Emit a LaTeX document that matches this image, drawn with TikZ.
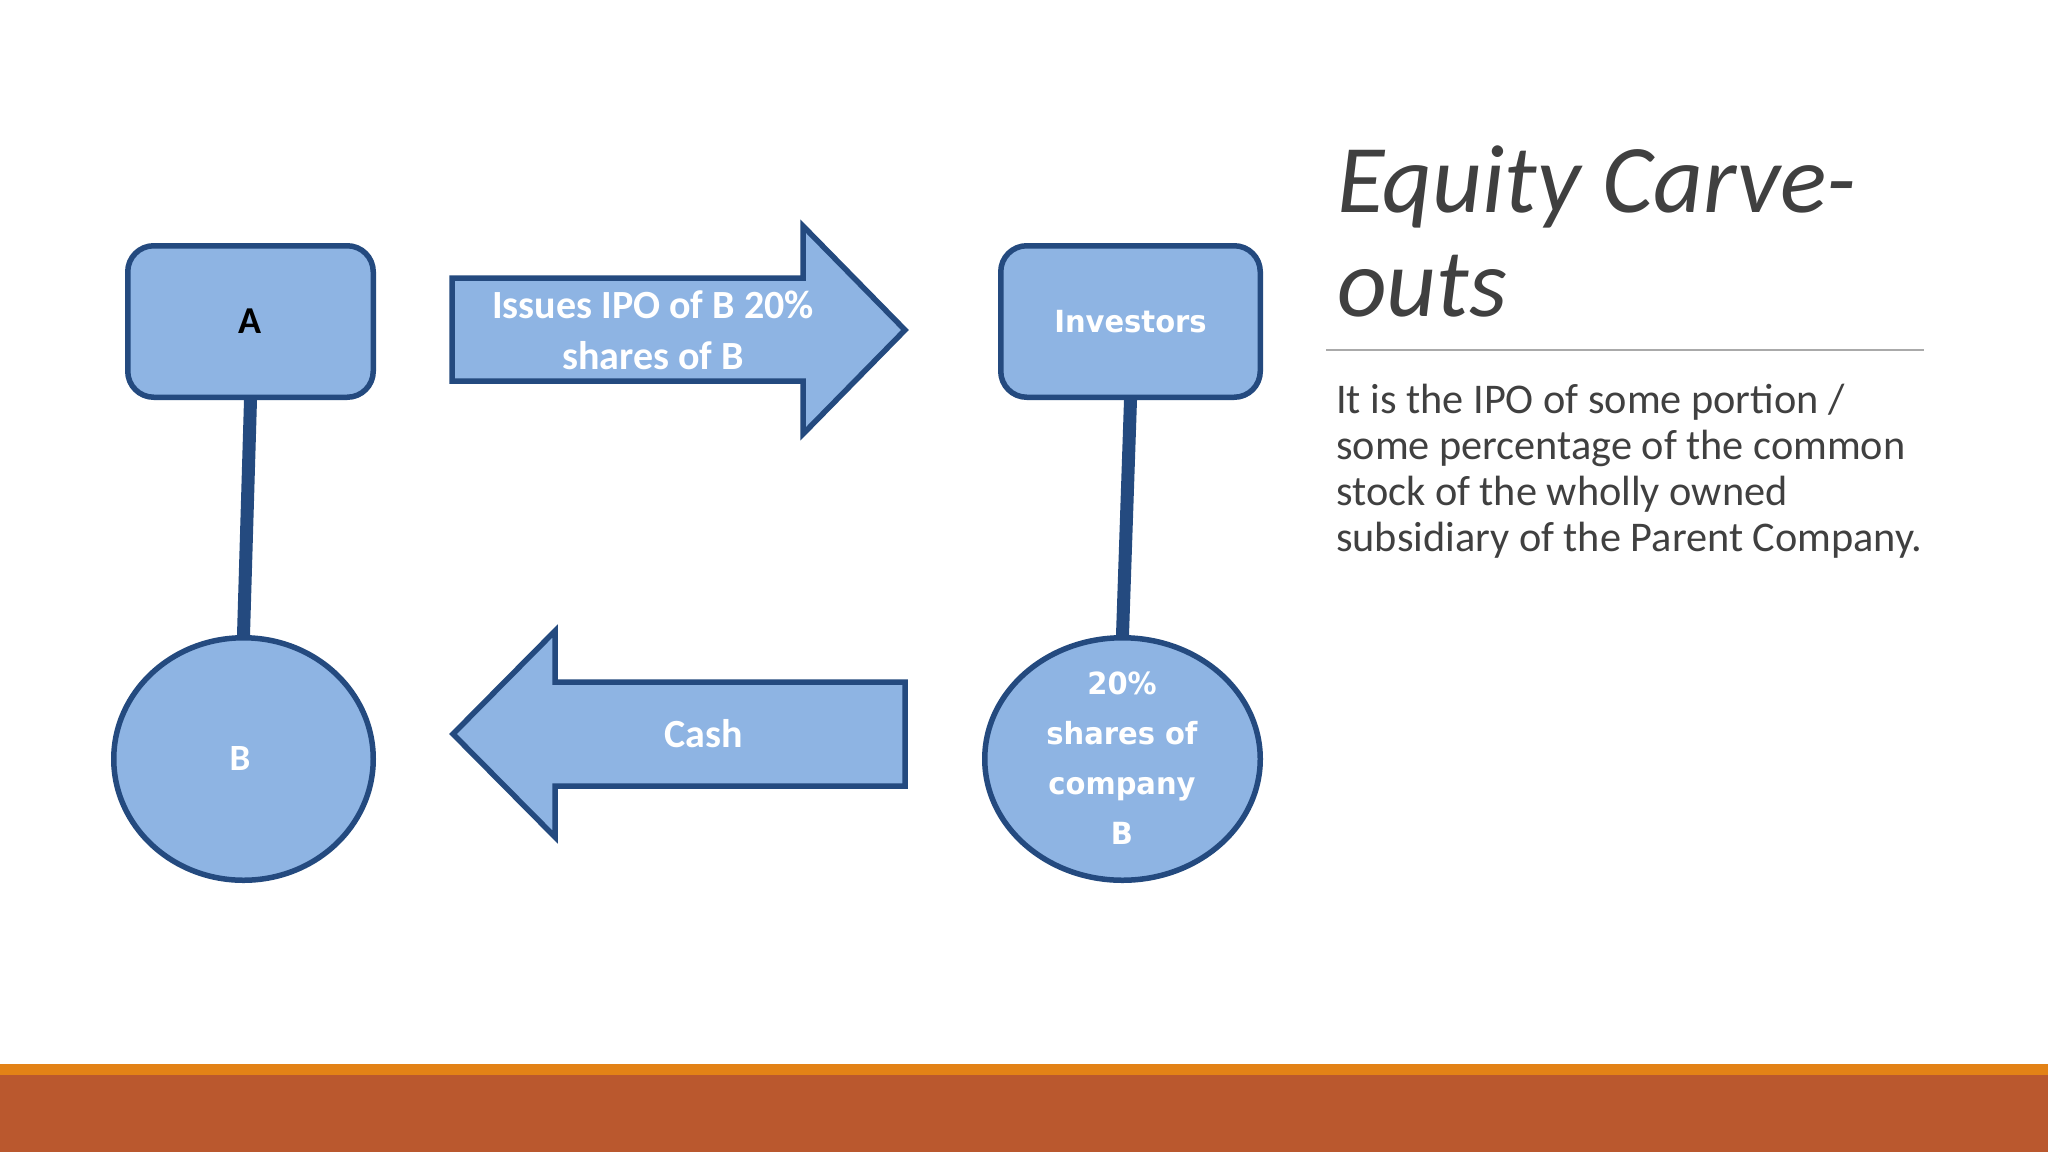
\documentclass[tikz,border=0pt]{standalone}
\usepackage{fontspec}
\setmainfont{Carlito}
\newfontfamily\dvs[FakeStretch=0.95]{DejaVu Sans}
\usetikzlibrary{shapes.geometric}
\definecolor{boxfill}{RGB}{142,180,227}
\definecolor{boxline}{RGB}{36,74,127}
\definecolor{txtgrey}{RGB}{64,64,64}
\definecolor{rulegrey}{RGB}{170,170,170}
\definecolor{bandorange}{RGB}{227,130,22}
\definecolor{bandrust}{RGB}{186,88,46}
\begin{document}
\begin{tikzpicture}[x=1pt,y=-1pt,
  shapebox/.style={draw=boxline, fill=boxfill, line width=5.5pt},
  roundbox/.style={shapebox, rectangle, rounded corners=26pt, inner sep=0pt, minimum height=151.5pt},
  ovalnode/.style={shapebox, ellipse, inner sep=0pt, minimum height=242.5pt},
  blockarrow/.style={shapebox, line join=miter},
  link/.style={draw=boxline, line width=13pt},
  carlbold/.style={font=\bfseries\fontsize{40}{51}\selectfont},
  dvbold/.style={font=\dvs\bfseries\fontsize{30.5}{50}\selectfont},
  whitetxt/.style={text=white, align=center, inner sep=0pt},
  titletxt/.style={anchor=base west, inner sep=0pt, text=txtgrey, font=\itshape\fontsize{97}{104}\selectfont},
  bodytxt/.style={anchor=base west, inner sep=0pt, text=txtgrey, font=\fontsize{42.3}{46}\selectfont}
]
\useasboundingbox (0,0) rectangle (2048,1152);
\fill[white] (0,0) rectangle (2048,1152);

% bottom bands
\fill[bandorange] (0,1064) rectangle (2048,1075);
\fill[bandrust] (0,1075) rectangle (2048,1152);

% shapes
\node[roundbox, minimum width=245.5pt, text=black, font=\bfseries\fontsize{38}{40}\selectfont] (A) at (250.5,321.5) {A};
\node[roundbox, minimum width=259.5pt, whitetxt, dvbold] (inv) at (1130.5,321.5) {Investors};
\node[ovalnode, minimum width=259.5pt] (B) at (243.5,759) {};
\node[whitetxt, font=\bfseries\fontsize{37}{40}\selectfont] (Btxt) at (240,758) {B};
\node[ovalnode, minimum width=275.5pt] (shares) at (1122.5,759) {};
\node[whitetxt, dvbold] (sharestxt) at (1122,758) {20\%\\shares of\\company\\B};

% connectors
\draw[link] (A.south) -- (B.north);
\draw[link] (inv.south) -- (shares.north);

% block arrows
\draw[blockarrow] (452,278) -- (803,278) -- (803,226) -- (905,330) -- (803,434) -- (803,381) -- (452,381) -- cycle;
\node[whitetxt, carlbold] (ipotxt) at (653,330) {Issues IPO of B 20\%\\shares of B};
\draw[blockarrow] (905,682) -- (555,682) -- (555,631) -- (453,734) -- (555,837) -- (555,786) -- (905,786) -- cycle;
\node[whitetxt, carlbold] (cashtxt) at (704,734) {Cash};

% title and text
\node[titletxt] (title1) at (1337,212) {Equity Carve-};
\node[titletxt] (title2) at (1337,316) {outs};
\draw[rulegrey, line width=2pt] (1326,350) -- (1924,350);
\node[bodytxt] (body1) at (1336,413) {It is the IPO of some portion /};
\node[bodytxt] (body2) at (1336,459) {some percentage of the common};
\node[bodytxt] (body3) at (1336,505) {stock of the wholly owned};
\node[bodytxt] (body4) at (1336,551) {subsidiary of the Parent Company.};
\end{tikzpicture}
\end{document}
